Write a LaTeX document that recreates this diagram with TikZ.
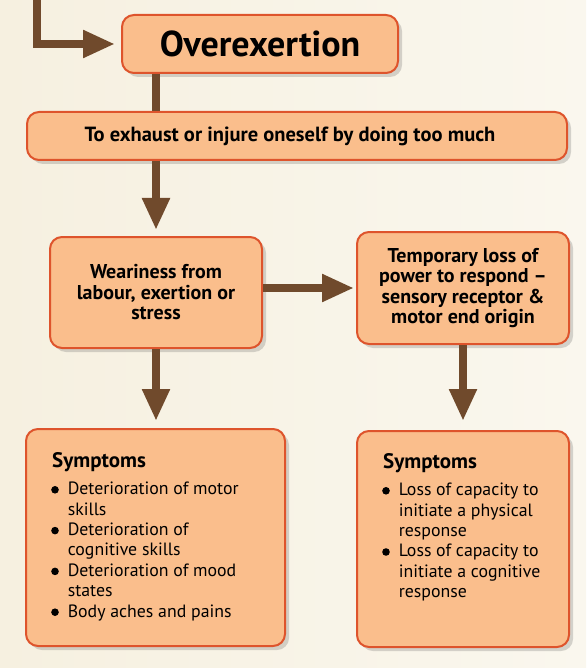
\documentclass[tikz,border=0pt]{standalone}
\usepackage{fontspec}
\setmainfont{PT Sans}
\usetikzlibrary{arrows.meta,shadows}
\definecolor{boxfill}{RGB}{250,190,140}
\definecolor{boxline}{RGB}{222,84,44}
\definecolor{linkbrown}{RGB}{112,74,44}
\definecolor{bgleft}{RGB}{246,240,224}
\definecolor{bgmid}{RGB}{253,251,246}
\definecolor{bgright}{RGB}{250,247,238}
\newcommand{\symdot}{\tikz[baseline=0pt]\fill[black] (3.8pt,4.8pt) circle[radius=3.8pt];}
\begin{document}
\begin{tikzpicture}[x=1pt,y=-1pt,
  box/.style={draw=boxline, line width=2pt, fill=boxfill, rounded corners=12pt,
    drop shadow={shadow xshift=4pt, shadow yshift=-4pt, opacity=0.22, fill=black!70},
    align=center, inner sep=0pt},
  link/.style={draw=linkbrown, line width=8pt},
  head/.style={link, -{Triangle[length=32pt,width=26pt]}},
  boxtext/.style={font=\bfseries\fontsize{20}{20.5}\selectfont},
  symtext/.style={anchor=north west, inner sep=0pt, align=left,
    font=\fontsize{17.8}{20.4}\selectfont}]
\shade[left color=bgleft, middle color=bgmid, right color=bgright] (0,0) rectangle (586,668);
\useasboundingbox (0,0) rectangle (586,668);

\node[box, minimum width=276pt, minimum height=58pt,
  font=\bfseries\fontsize{36}{38}\selectfont] (over) at (260,44) {Overexertion};
\node[box, minimum width=540pt, minimum height=48pt,
  font=\bfseries\fontsize{20.5}{22}\selectfont] (meaning) at (297,136)
  {\hspace*{-14pt}To exhaust or injure oneself by doing too much};
\node[box, boxtext, minimum width=212pt, minimum height=111pt] (weary) at (156,292.5)
  {Weariness from\\labour, exertion or\\stress};
\node[box, boxtext, minimum width=212pt, minimum height=112pt] (loss) at (463,288)
  {Temporary loss of\\power to respond --\\sensory receptor \&\\motor end origin};
\node[box, minimum width=259pt, minimum height=217pt] (wearysym) at (155.5,537.5) {};
\node[box, minimum width=212pt, minimum height=216pt] (losssym) at (463,539) {};

\node[symtext] (wearylist) at (51,452) {%
  \begin{tabular}{@{}l@{\hspace{9pt}}l@{}}
  \multicolumn{2}{@{}l}{\hspace*{1pt}\bfseries\fontsize{21}{20.4}\selectfont Symptoms}\\[7pt]
  \symdot & Deterioration of motor\\
   & skills\\
  \symdot & Deterioration of\\
   & cognitive skills\\
  \symdot & Deterioration of mood\\
   & states\\
  \symdot & Body aches and pains
  \end{tabular}};
\node[symtext] (losslist) at (382,453) {%
  \begin{tabular}{@{}l@{\hspace{9pt}}l@{}}
  \multicolumn{2}{@{}l}{\hspace*{1pt}\bfseries\fontsize{21}{20.4}\selectfont Symptoms}\\[7pt]
  \symdot & Loss of capacity to\\
   & initiate a physical\\
   & response\\
  \symdot & Loss of capacity to\\
   & initiate a cognitive\\
   & response
  \end{tabular}};

\coordinate (entry) at (37,0);
\draw[head, shorten >=6pt] (entry) |- (over.west); % into top box
\draw[link] (over.south -| weary.north) -- (meaning.north -| weary.north);
\draw[head, shorten >=6pt] (meaning.south -| weary.north) -- (weary.north);
\draw[head, shorten >=2pt] (weary.east |- loss.west) -- (loss.west);
\draw[head, shorten >=7pt] (weary.south) -- (wearysym.north -| weary.south);
\draw[head, shorten >=9pt] (loss.south) -- (losssym.north);
\end{tikzpicture}
\end{document}
